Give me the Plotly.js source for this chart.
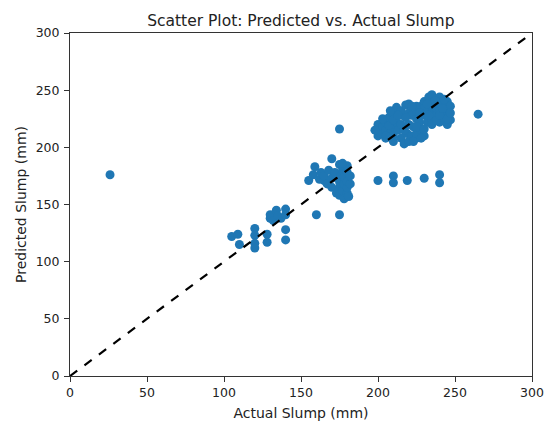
<!DOCTYPE html>
<html>
<head>
<meta charset="utf-8">
<script src="https://cdn.plot.ly/plotly-3.0.1.min.js"></script>
<style>html,body{margin:0;padding:0;background:#fff;}#chart{width:550px;height:434px;}</style>
</head>
<body>
<div id="chart"></div>
<script>
// Actual slump (mm)
const actualSlump = [
  // upper cluster
  200,200,200,202,203,205,205,205,207,208,210,210,210,210,212,212,213,215,215,215,217,218,219,220,220,220,222,222,223,225,225,225,225,227,228,228,230,230,230,232,232,233,235,235,235,235,237,238,238,240,240,240,242,242,243,245,245,245,245,247,247,230,225,235,240,
  203,207,210,213,215,217,218,220,222,223,225,227,228,230,232,233,237,238,240,242,243,245,247,208,205,198,
  // middle cluster
  155,158,159,160,162,163,165,165,167,168,170,170,170,172,173,175,175,175,175,175,175,176,177,177,178,178,178,179,180,180,180,180,180,181,182,182,177,
  // lower cluster
  105,109,110,120,120,120,120,128,128,130,130,132,134,137,135,140,140,140,140,
  // under-predicted row
  200,210,210,219,230,240,240,
  // outliers
  26,265
];
// Predicted slump (mm)
const predictedSlump = [
  210,215,220,212,218,208,215,222,226,212,205,210,218,230,235,222,215,208,228,232,203,237,212,238,230,205,210,228,218,208,212,225,232,222,215,236,210,228,240,232,222,244,225,230,238,246,235,228,242,222,232,244,238,226,230,220,228,234,240,236,224,234,236,220,238,
  225,219,224,228,220,215,226,220,236,205,218,230,208,216,238,228,241,224,228,234,242,225,230,232,210,215,
  171,176,183,141,172,178,171,175,168,180,190,173,165,178,160,216,141,185,170,165,158,175,180,162,155,168,174,183,160,165,170,178,184,157,168,175,186,
  122,124,115,129,123,116,112,124,117,138,141,136,145,138,140,146,141,128,119,
  171,175,169,171,173,176,169,
  176,229
];
// Ideal line (y = x)
const idealX = [0, 300];
const idealY = [0, 300];

const font = "DejaVu Sans, sans-serif";
const axisCommon = {
  range: [0, 300],
  tickvals: [0, 50, 100, 150, 200, 250, 300],
  ticks: "outside",
  ticklen: 5,
  tickwidth: 1,
  tickcolor: "#333",
  showline: true,
  linecolor: "#333",
  linewidth: 1,
  mirror: true,
  showgrid: false,
  zeroline: false,
  tickfont: {family: font, size: 12.5, color: "#222"}
};

const traces = [
  {
    x: actualSlump, y: predictedSlump,
    type: "scatter", mode: "markers",
    marker: {color: "#1f77b4", size: 9},
    cliponaxis: false,
    showlegend: false
  },
  {
    x: idealX, y: idealY,
    type: "scatter", mode: "lines",
    line: {color: "#000", width: 2.2, dash: "dash"},
    showlegend: false
  }
];

const layout = {
  width: 550, height: 434,
  margin: {l: 70, r: 18, t: 33, b: 58},
  paper_bgcolor: "#fff", plot_bgcolor: "#fff",
  title: {text: "Scatter Plot: Predicted vs. Actual Slump", font: {family: font, size: 15.5, color: "#222"}, x: 0.547, xanchor: "center", y: 0.952, yanchor: "middle"},
  xaxis: Object.assign({}, axisCommon, {title: {text: "Actual Slump (mm)", font: {family: font, size: 14, color: "#222"}, standoff: 9}}),
  yaxis: Object.assign({}, axisCommon, {ticklabelstandoff: 2, title: {text: "Predicted Slump (mm)", font: {family: font, size: 14, color: "#222"}, standoff: 5}}),
  showlegend: false
};

Plotly.newPlot("chart", traces, layout, {displayModeBar: false, staticPlot: true});
</script>
</body>
</html>
